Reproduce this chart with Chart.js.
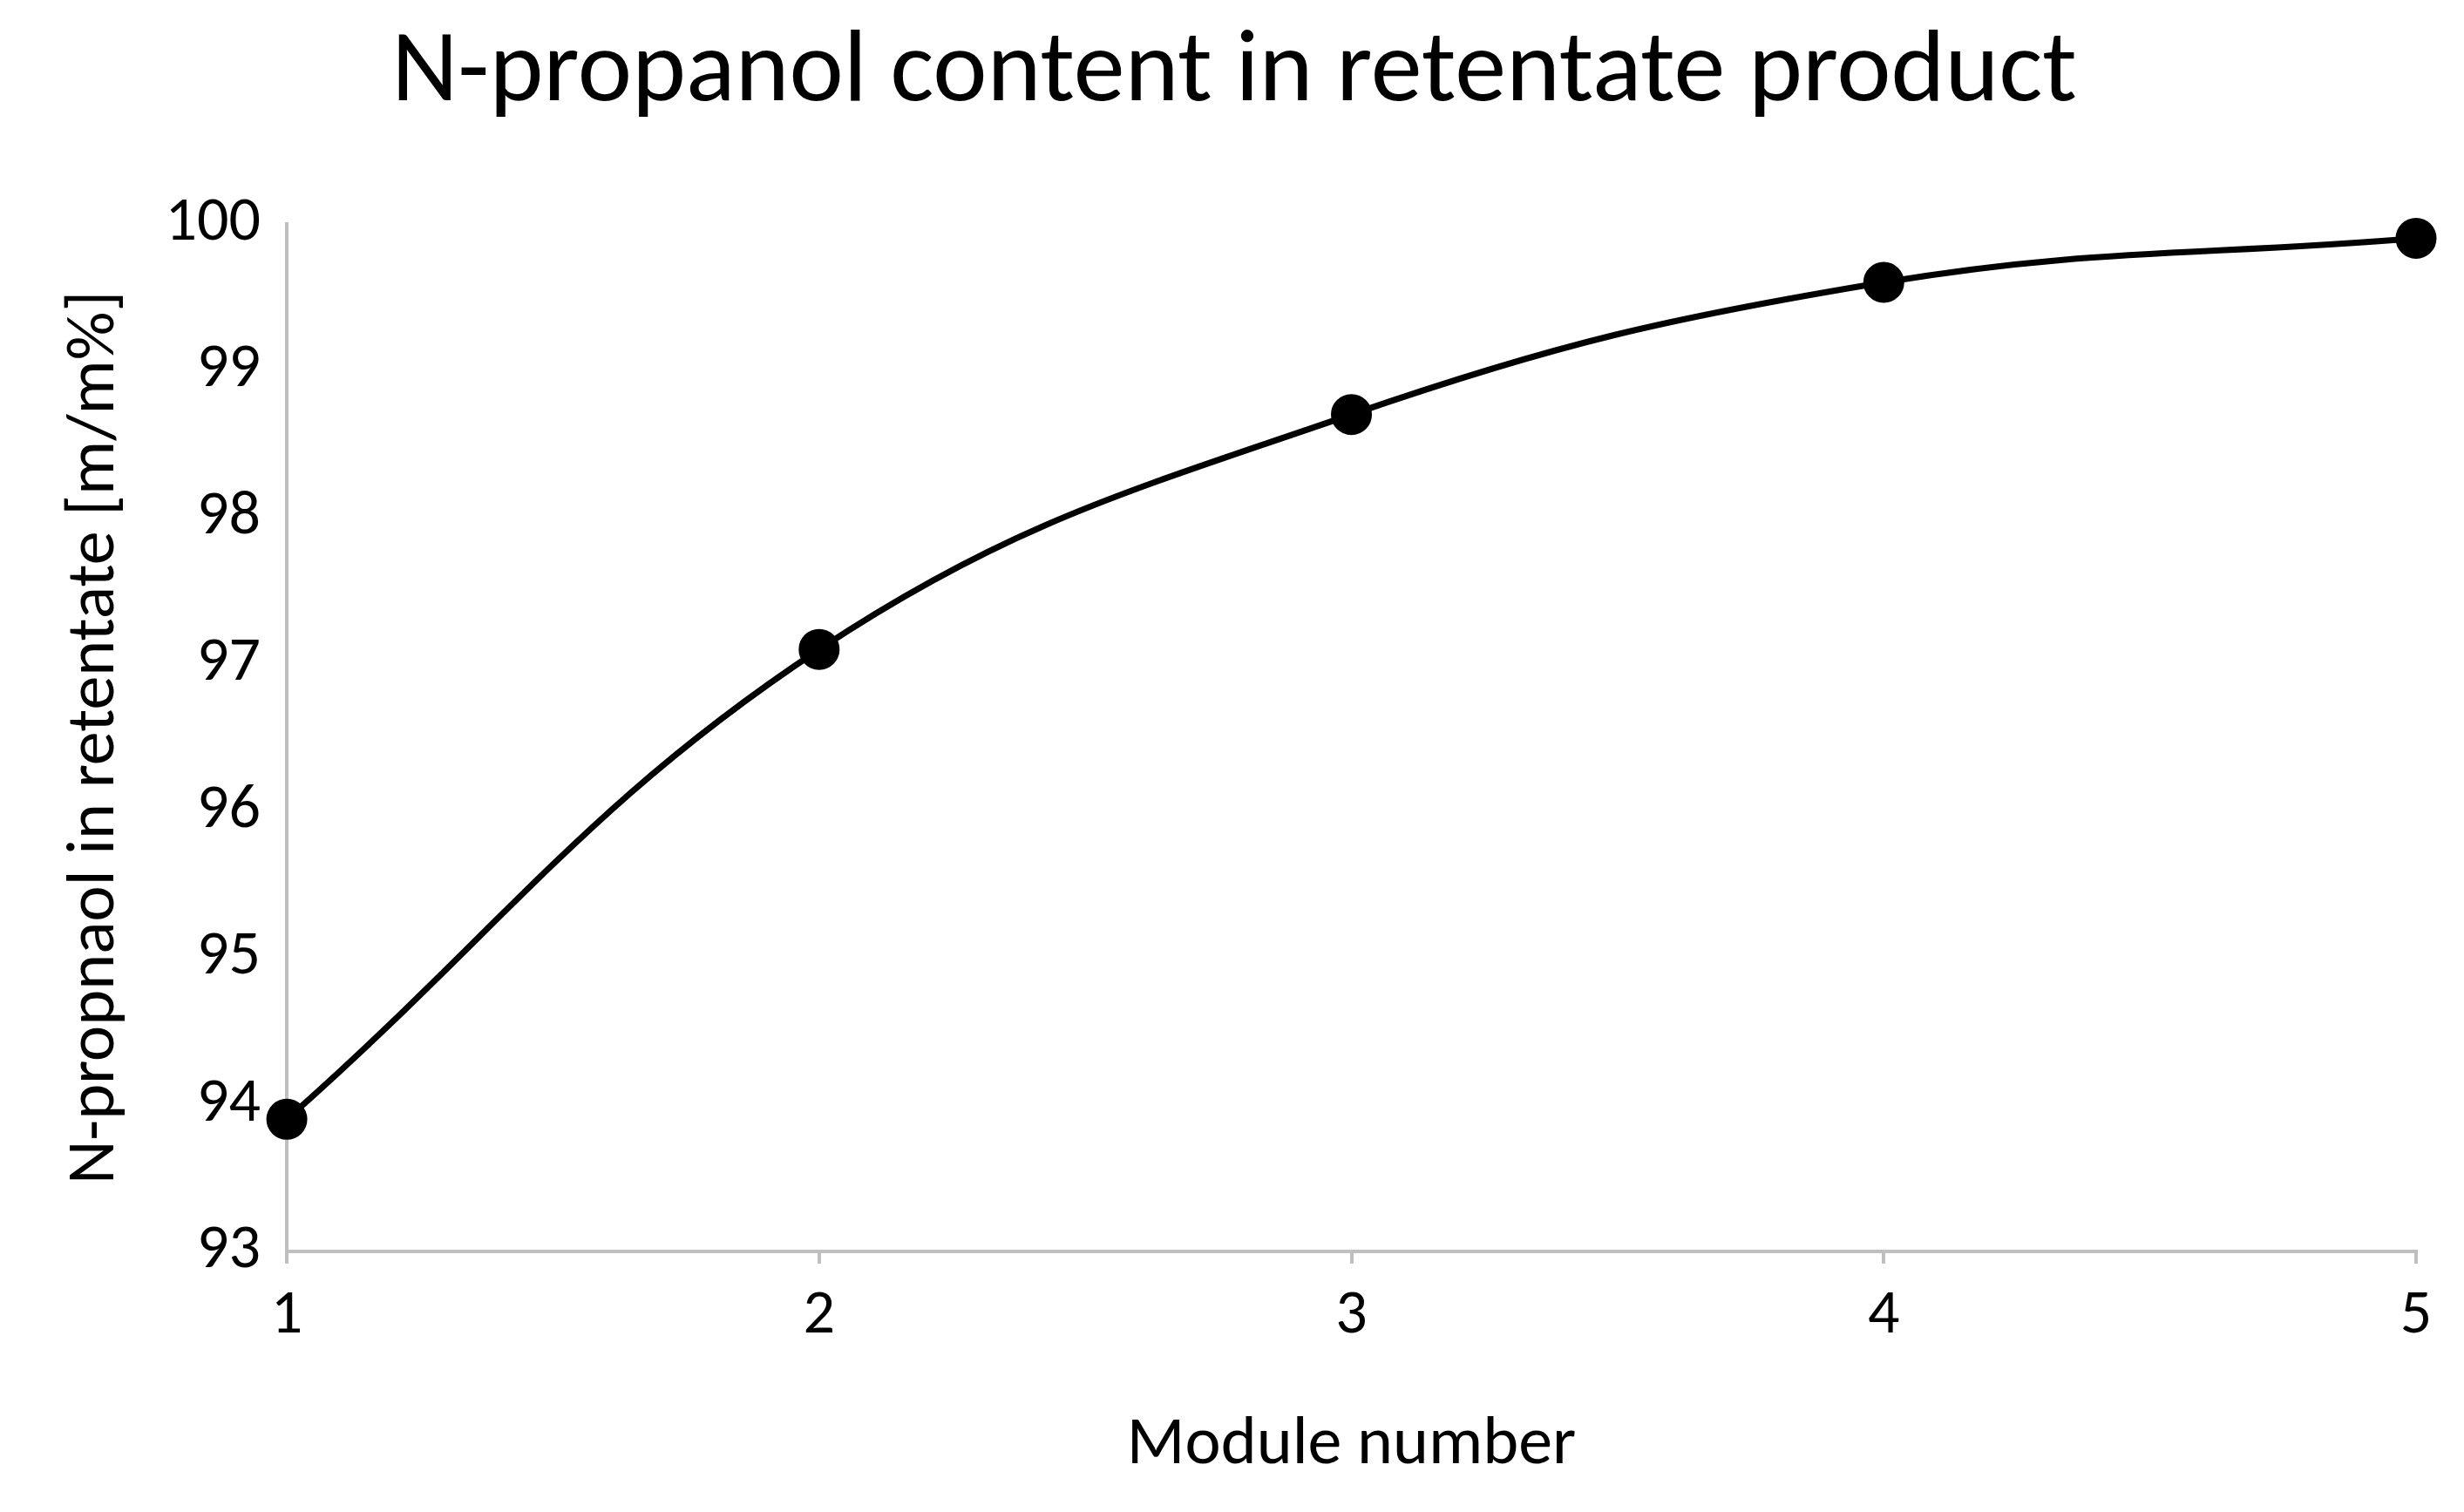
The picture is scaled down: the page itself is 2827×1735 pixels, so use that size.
<!DOCTYPE html>
<html><head><meta charset="utf-8">
<script src="https://cdn.jsdelivr.net/npm/chart.js@4"></script>
<style>html,body{margin:0;padding:0;background:#fff}#c{display:block}</style>
</head><body>
<canvas id="c" width="2827" height="1735"></canvas>
<script>
const moduleNumbers = [1, 2, 3, 4, 5];
const propanolContent = [93.9, 97.1, 98.7, 99.6, 99.9];
const yTicks = [93, 94, 95, 96, 97, 98, 99, 100];
const font = "Calibri, Carlito, Lato, 'Open Sans', sans-serif";
new Chart(document.getElementById('c'), {
  type: 'line',
  data: { datasets: [{
    data: moduleNumbers.map((x, i) => ({x, y: propanolContent[i]})),
    borderColor: '#000', backgroundColor: '#000', borderWidth: 7,
    pointRadius: 20, pointHoverRadius: 20, tension: 0.4, fill: false, clip: false
  }]},
  options: {
    responsive: false, devicePixelRatio: 1, animation: false,
    layout: { padding: { left: 60, right: 55, top: 15, bottom: 25 } },
    plugins: {
      legend: { display: false }, tooltip: { enabled: false },
      title: { display: true, text: 'N-propanol content in retentate product', color: '#000',
        font: { family: font, size: 118, weight: 'normal' }, padding: { top: 0, bottom: 100 } }
    },
    scales: {
      x: { type: 'linear', min: 1, max: 5,
        ticks: { stepSize: 1, color: '#000', font: { family: font, size: 72 }, padding: 18 },
        grid: { drawOnChartArea: false, color: '#bfbfbf', lineWidth: 4, tickLength: 14 },
        border: { color: '#bfbfbf', width: 4 },
        title: { display: true, text: 'Module number', color: '#000', font: { family: font, size: 78 }, padding: { top: 40 } } },
      y: { min: 93, max: 100, afterBuildTicks: a => { a.ticks = yTicks.map(v => ({value: v})); },
        ticks: { color: '#000', font: { family: font, size: 72 }, padding: 22 },
        grid: { display: false },
        border: { color: '#bfbfbf', width: 4 },
        title: { display: true, text: 'N-propnaol in retentate [m/m%]', color: '#000', font: { family: font, size: 78 }, padding: { bottom: 10 } } }
    }
  }
});
</script>
</body></html>
